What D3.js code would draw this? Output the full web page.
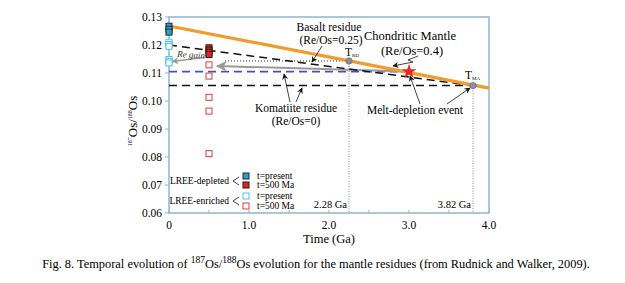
<!DOCTYPE html>
<html>
<head>
<meta charset="utf-8">
<script src="https://cdn.jsdelivr.net/npm/d3@7"></script>
<style>
  body { margin: 0; background: #fff; }
  svg text { font-family: "Liberation Serif", "Times New Roman", Times, serif; }
</style>
</head>
<body>
<svg id="chart" width="625" height="283"></svg>
<script>
// Data
const xTicks = [0, 1, 2, 3, 4];
const xMinorTicks = [0.5, 1.5, 2.5, 3.5];
const yTicks = [0.06, 0.07, 0.08, 0.09, 0.10, 0.11, 0.12, 0.13];

const chondriticLine = [[0, 0.1268], [4.0, 0.1046]];
const basaltLine = [[0, 0.1200], [3.8, 0.1055]];
const komatiiteBlue = [[0, 0.1105], [3.0, 0.1105]];
const komatiiteBlack = [[0, 0.1055], [3.8, 0.1055]];
const reGainDotted = [[0.7, 0.1143], [2.25, 0.1143]];
const grayArrow = [[3.0, 0.1105], [0.6, 0.1125]];
const reGainArrow = [[0.45, 0.1156], [0.04, 0.1141]];

const meltEvent = [3.0, 0.1105];
const tRD = [2.25, 0.1143];
const tMA = [3.8, 0.1055];

const depletedPresent = [0.1267, 0.1256, 0.1246];
const depleted500 = [0.1190, 0.1182, 0.1174, 0.1166];
const enrichedPresent = [0.1210, 0.1202, 0.1195, 0.1148, 0.1142, 0.1136];
const enriched500 = [0.1129, 0.1089, 0.1013, 0.0964, 0.0812];

// Chart
const svg = d3.select("#chart");
const x = d3.scaleLinear().domain([0, 4]).range([169, 489]);
const y = d3.scaleLinear().domain([0.06, 0.13]).range([213, 17]);
const frame = "#8fb6ca";

const defs = svg.append("defs");
function marker(id, color, w, h) {
  defs.append("marker")
    .attr("id", id)
    .attr("viewBox", "0 0 10 10")
    .attr("refX", 9).attr("refY", 5)
    .attr("markerWidth", w).attr("markerHeight", h)
    .attr("markerUnits", "userSpaceOnUse")
    .attr("orient", "auto")
    .append("path").attr("d", "M0,0 L10,5 L0,10 L3,5 Z").attr("fill", color);
}
marker("arrBlack", "#111", 8, 6);
marker("arrGray", "#9a9a9a", 14, 11);
marker("arrGraySmall", "#9a9a9a", 9, 7);

// Frame
svg.append("rect")
  .attr("x", x(0)).attr("y", y(0.13))
  .attr("width", x(4) - x(0)).attr("height", y(0.06) - y(0.13))
  .attr("fill", "none").attr("stroke", frame).attr("stroke-width", 1.5);

// Axes
const xAxis = svg.append("g").attr("transform", `translate(0,${y(0.06)})`);
xAxis.selectAll("line")
  .data(xTicks.concat(xMinorTicks))
  .enter().append("line")
  .attr("x1", d => x(d)).attr("x2", d => x(d))
  .attr("y1", 0).attr("y2", -3)
  .attr("stroke", frame).attr("stroke-width", 1);
xAxis.selectAll("text")
  .data(xTicks)
  .enter().append("text")
  .attr("x", d => x(d)).attr("y", 16)
  .attr("text-anchor", "middle")
  .attr("font-size", 11.5)
  .text(d => d === 0 ? "0" : d.toFixed(1));

const yAxis = svg.append("g").attr("transform", `translate(${x(0)},0)`);
yAxis.selectAll("line")
  .data(yTicks)
  .enter().append("line")
  .attr("x1", -4).attr("x2", 0)
  .attr("y1", d => y(d)).attr("y2", d => y(d))
  .attr("stroke", frame).attr("stroke-width", 1);
yAxis.selectAll("text")
  .data(yTicks)
  .enter().append("text")
  .attr("x", -7).attr("y", d => y(d) + 4)
  .attr("text-anchor", "end")
  .attr("font-size", 11.5)
  .text(d => d.toFixed(2));

svg.append("text")
  .attr("x", x(2)).attr("y", 243)
  .attr("text-anchor", "middle")
  .attr("font-size", 12.5)
  .text("Time (Ga)");

const yl = svg.append("text")
  .attr("transform", "translate(137,121) rotate(-90)")
  .attr("text-anchor", "middle")
  .attr("font-size", 13);
yl.append("tspan").attr("font-size", 6).attr("dy", -5).text("187");
yl.append("tspan").attr("dy", 5).text("Os/");
yl.append("tspan").attr("font-size", 6).attr("dy", -5).text("188");
yl.append("tspan").attr("dy", 5).text("Os");

const line = d3.line().x(d => x(d[0])).y(d => y(d[1]));

// Vertical dotted lines
[tRD, tMA].forEach(p => {
  svg.append("line")
    .attr("x1", x(p[0])).attr("x2", x(p[0]))
    .attr("y1", y(p[1])).attr("y2", y(0.06))
    .attr("stroke", "#888").attr("stroke-width", 1)
    .attr("stroke-dasharray", "1,1.5");
});

// Reference lines
svg.append("path").attr("d", line(komatiiteBlack))
  .attr("fill", "none").attr("stroke", "#111").attr("stroke-width", 1.5)
  .attr("stroke-dasharray", "8,5");
svg.append("path").attr("d", line(komatiiteBlue))
  .attr("fill", "none").attr("stroke", "#4b4bc8").attr("stroke-width", 1.8)
  .attr("stroke-dasharray", "8,5");
svg.append("path").attr("d", line(reGainDotted))
  .attr("fill", "none").attr("stroke", "#333").attr("stroke-width", 1)
  .attr("stroke-dasharray", "1,2");
svg.append("path").attr("d", line(grayArrow))
  .attr("fill", "none").attr("stroke", "#9a9a9a").attr("stroke-width", 2)
  .attr("marker-end", "url(#arrGray)");
svg.append("path").attr("d", line(reGainArrow))
  .attr("fill", "none").attr("stroke", "#9a9a9a").attr("stroke-width", 1.5)
  .attr("marker-end", "url(#arrGraySmall)");
svg.append("path").attr("d", line(basaltLine))
  .attr("fill", "none").attr("stroke", "#111").attr("stroke-width", 1.5)
  .attr("stroke-dasharray", "8,5");
svg.append("path").attr("d", line(chondriticLine))
  .attr("fill", "none").attr("stroke", "#f39a2c").attr("stroke-width", 3.2);

svg.append("text")
  .attr("x", x(0.1)).attr("y", y(0.1158))
  .attr("font-size", 9).attr("font-style", "italic").attr("fill", "#333")
  .attr("transform", `rotate(4,${x(0.1)},${y(0.1158)})`)
  .text("Re gain");

// Samples
const sq = 6;
function squares(vals, xv, fill, stroke) {
  svg.append("g").selectAll("rect")
    .data(vals)
    .enter().append("rect")
    .attr("x", x(xv) - sq / 2).attr("y", d => y(d) - sq / 2)
    .attr("width", sq).attr("height", sq)
    .attr("fill", fill).attr("stroke", stroke).attr("stroke-width", 1);
}
squares(enrichedPresent, 0, "#fff", "#4fc2e6");
squares(depletedPresent, 0, "#2e9fcf", "#1a2a33");
squares(enriched500, 0.5, "#fff", "#e23a3a");
squares(depleted500, 0.5, "#d62a2a", "#3a1010");

// Points
[tRD, tMA].forEach((p, i) => {
  svg.append("circle")
    .attr("cx", x(p[0])).attr("cy", y(p[1])).attr("r", 3.2)
    .attr("fill", i === 0 ? "#8d8d9c" : "#8c8cb8")
    .attr("stroke", "#666").attr("stroke-width", 0.6);
});
svg.append("path")
  .attr("d", d3.symbol(d3.symbolStar, 70)())
  .attr("transform", `translate(${x(meltEvent[0])},${y(meltEvent[1])})`)
  .attr("fill", "#e5262a");

// Annotations
function label(tx, ty, str, size, anchor) {
  svg.append("text").attr("x", tx).attr("y", ty)
    .attr("text-anchor", anchor || "middle")
    .attr("font-size", size).text(str);
}
function arrow(x1, y1, x2, y2) {
  svg.append("line").attr("x1", x1).attr("y1", y1).attr("x2", x2).attr("y2", y2)
    .attr("stroke", "#111").attr("stroke-width", 0.8)
    .attr("marker-end", "url(#arrBlack)");
}

label(329, 31, "Basalt residue", 11.5);
label(331, 44, "(Re/Os=0.25)", 11.5);
arrow(322, 46, 312, 62);

label(410, 40, "Chondritic Mantle", 12.5);
label(412, 55, "(Re/Os=0.4)", 12.5);
svg.append("path")
  .attr("d", "M418,56 L408,60 L413,62 L393,66")
  .attr("fill", "none").attr("stroke", "#111").attr("stroke-width", 0.8)
  .attr("marker-end", "url(#arrBlack)");

label(296, 112, "Komatiite residue", 11.5);
label(296, 125, "(Re/Os=0)", 11.5);
arrow(290, 102, 284, 74);
arrow(296, 102, 302, 88);

label(415, 114, "Melt-depletion event", 11.5);
arrow(420, 104, 410, 76);
arrow(447, 104, 470, 88);

const trd = svg.append("text").attr("x", x(tRD[0]) - 4).attr("y", y(tRD[1]) - 5).attr("font-size", 11.5);
trd.append("tspan").text("T");
trd.append("tspan").attr("font-size", 5).attr("dy", 1).text("RD");
const tma = svg.append("text").attr("x", x(tMA[0]) - 8).attr("y", y(tMA[1]) - 7).attr("font-size", 11.5);
tma.append("tspan").text("T");
tma.append("tspan").attr("font-size", 5).attr("dy", 1).text("MA");

label(x(tRD[0]) - 2, 208, "2.28 Ga", 10.5, "end");
label(x(tMA[0]) - 2, 208, "3.82 Ga", 10.5, "end");

// Legend
const lx = 246;
const legendRows = [
  { yy: 176, fill: "#2e9fcf", stroke: "#1a2a33", text: "t=present" },
  { yy: 185, fill: "#d62a2a", stroke: "#3a1010", text: "t=500 Ma" },
  { yy: 196, fill: "#fff", stroke: "#4fc2e6", text: "t=present" },
  { yy: 206, fill: "#fff", stroke: "#e23a3a", text: "t=500 Ma" }
];
legendRows.forEach(r => {
  svg.append("rect").attr("x", lx - 3).attr("y", r.yy - 3).attr("width", sq).attr("height", sq)
    .attr("fill", r.fill).attr("stroke", r.stroke).attr("stroke-width", 1);
  label(257, r.yy + 3, r.text, 9.5, "start");
});
label(229, 184, "LREE-depleted", 9.5, "end");
label(229, 204, "LREE-enriched", 9.5, "end");
svg.append("path").attr("d", "M239,177 L233,181 L239,185").attr("fill", "none").attr("stroke", "#111").attr("stroke-width", 0.8);
svg.append("path").attr("d", "M239,197 L233,201 L239,205").attr("fill", "none").attr("stroke", "#111").attr("stroke-width", 0.8);

// Caption
const cap = svg.append("text").attr("x", 316).attr("y", 268)
  .attr("text-anchor", "middle").attr("font-size", 12.4);
cap.append("tspan").text("Fig. 8. Temporal evolution of ");
cap.append("tspan").attr("font-size", 9.5).attr("dy", -5).text("187");
cap.append("tspan").attr("dy", 5).text("Os/");
cap.append("tspan").attr("font-size", 9.5).attr("dy", -5).text("188");
cap.append("tspan").attr("dy", 5).text("Os evolution for the mantle residues (from Rudnick and Walker, 2009).");
</script>
</body>
</html>
